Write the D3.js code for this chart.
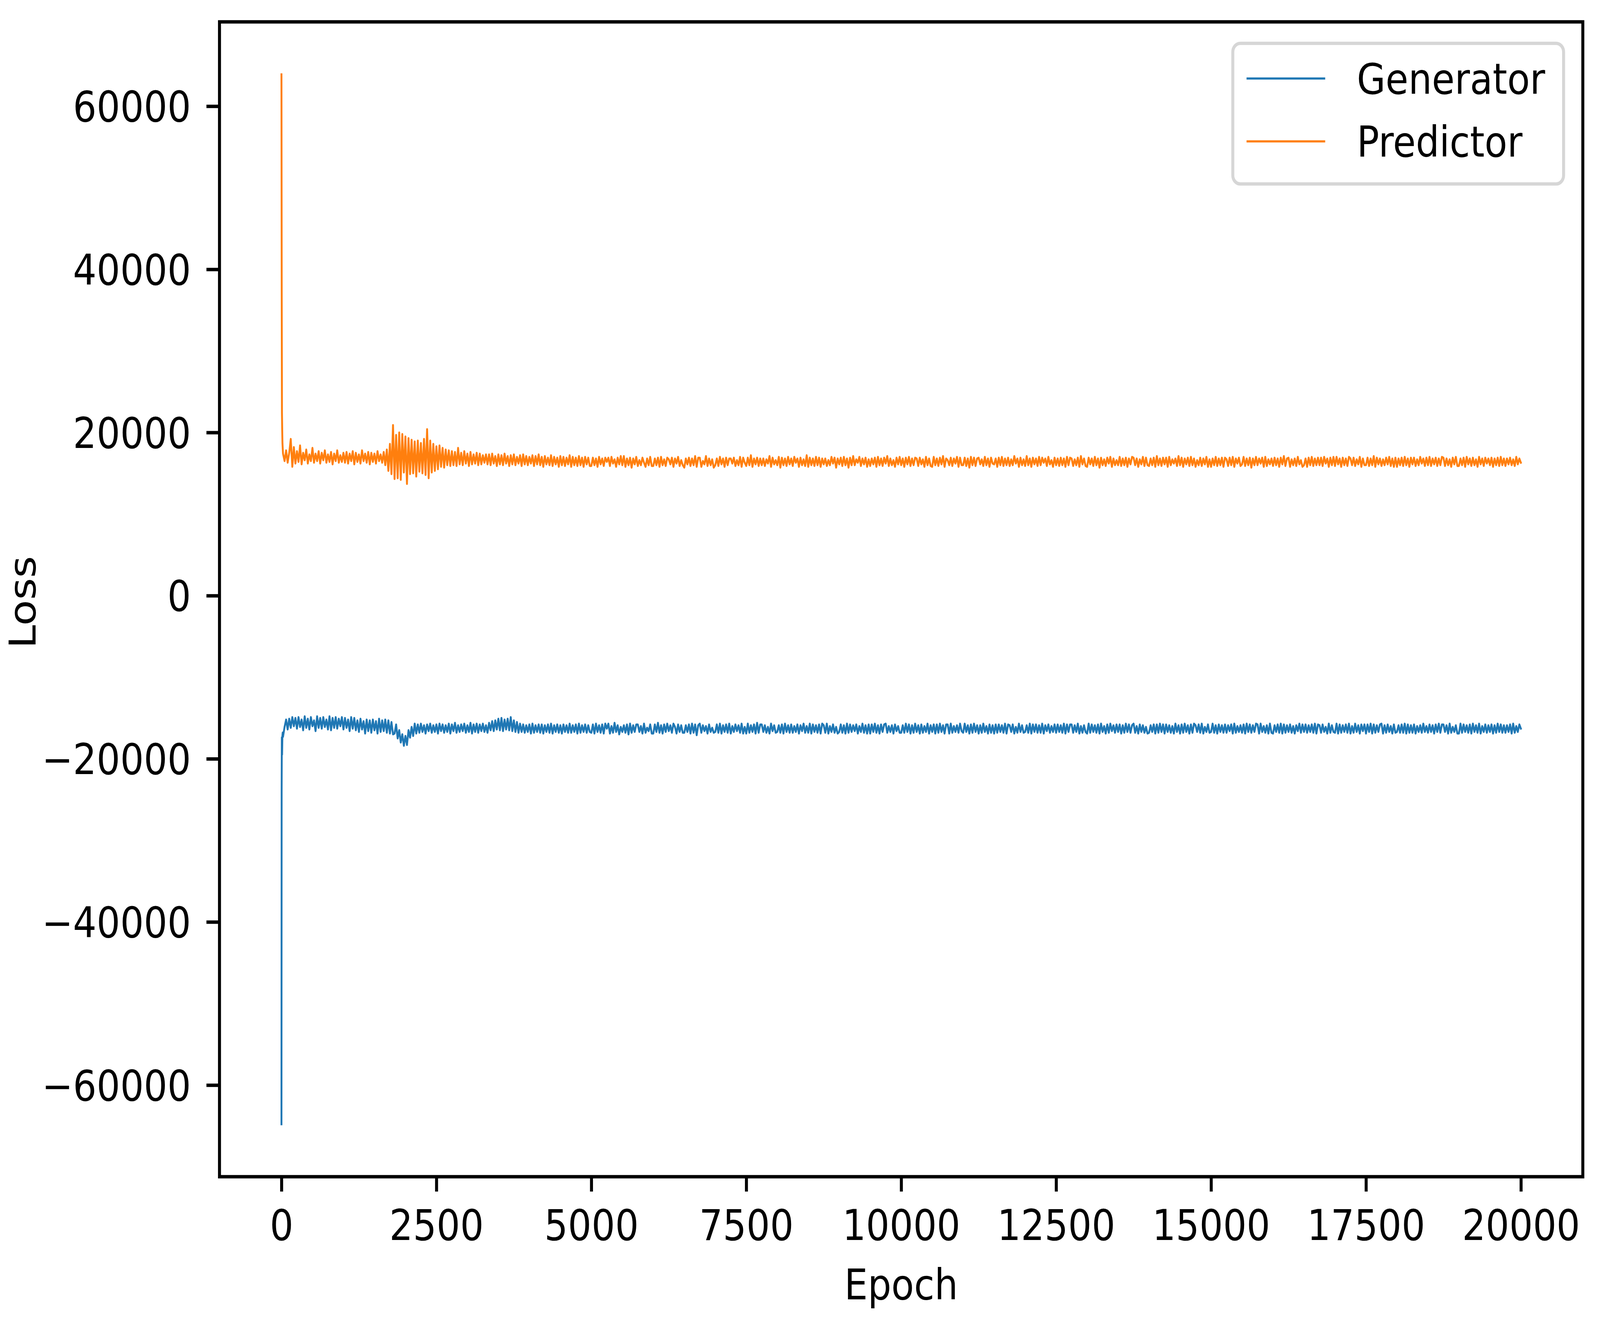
<!DOCTYPE html>
<html>
<head>
<meta charset="utf-8">
<style>
html, body { margin: 0; padding: 0; background: #fff; overflow: hidden; }
svg { display: block; width: 100vw; height: 100vh; }
</style>
</head>
<body>
<svg viewBox="0 0 4658 3385" preserveAspectRatio="none"></svg>
<script src="https://d3js.org/d3.v7.min.js"></script>
<script>
// values (epochs 25..19975 every 25)
var headEpochsPred = [0, 4, 8, 12, 16];
var headPred = [63900, 37600, 22400, 20300, 18700];
var headEpochsGen = [0, 3, 6, 10, 15, 20];
var headGen = [-64800, -24000, -17400, -19500, -17200, -16800];

var predFine = [
  17400, 16500, 17800, 16300, 17500, 19200, 15800, 18200,
  16200, 17700, 16400, 18400, 16100, 17500, 16600, 17900, 16200, 17300, 16500, 18100,
  16300, 17400, 16500, 17700, 16200, 17500, 16600, 17800, 16300, 17300,
  16400, 17600, 16100, 17400, 16500, 17800, 16300, 17200, 16400, 17500,
  16300, 17600, 16200, 17400, 16500, 17700, 16100, 17500, 16400, 17300,
  16200, 17800, 16500, 17400, 16300, 17600, 16100, 17500, 16400, 17400,
  16200, 17700, 16500, 17300, 16300, 17600,
  16000, 17900, 15300, 18600, 14900, 20900, 14300, 19700, 14400, 20000,
  14200, 19800, 15100, 19500, 13700, 19300, 14900, 19100, 15000, 18900,
  14600, 19000, 15200, 18700, 15000, 19200, 14800, 20400, 14400, 19000,
  15100, 18600, 15300, 18300, 15500, 18400, 15800, 18100, 15700, 17900,
  16000, 17800, 15900, 17700,
  16000, 17600, 15900, 18100, 16100, 17500, 16000, 17700, 16200, 17400,
  15900, 17600, 16100, 17300, 16200, 17500, 16000, 17400, 16100, 17200, 16300, 17300,
  16100, 17300, 16000, 17400, 16200, 17100, 15900, 17300, 16100, 17200,
  16000, 17400, 16200, 17100, 15900, 17200, 16100, 17300, 16000, 17000,
  16200, 17200, 15900, 17300, 16100, 17100, 16000, 17000, 16200, 17200,
  15900, 17100, 16100, 17300, 16000, 17000, 15800, 17100, 16100, 16900,
  16000, 17200, 15900, 17000, 16100, 16900, 15800, 17100, 16000, 17000,
  15900, 16900, 16100, 17200, 15800, 17000, 16000, 16900, 15900, 17100,
  16000, 16900, 15800, 17000, 16100, 16900, 15900
];

var predLate = [
  15900, 16900, 16000, 16800, 15800, 17000, 16100, 16800, 15900, 16900,
  16400, 16900, 15900, 17000, 16200, 16700, 15800, 16900, 16100, 17100,
  16000, 17100, 15800, 16800, 16000, 16900, 15700, 16800, 16100, 17000,
  15900, 16600, 16000, 16900, 16300, 15800, 16800, 16000, 17000, 15900,
  15900, 16800, 16000, 16900, 15800, 17000, 16000, 16700, 15900, 16900,
  16700, 16100, 16900, 15800, 16800, 16200, 17000, 15900, 16600, 16000,
  15700, 16800, 16100, 16900, 15900, 16800, 16000, 17100, 15800, 16900,
  16900, 15800, 16500, 16100, 17100, 15900, 16800, 16000, 16700, 15700,
  16000, 16800, 15900, 17000, 16100, 16800, 15800, 16900, 16000, 16800,
  16800, 16200, 16900, 15900, 16600, 16000, 17000, 15800, 16900, 16300,
  15900, 16900, 16000, 17200, 15800, 16800, 16100, 16900, 15900, 16800,
  16000, 16800, 15900, 16700, 16200, 17100, 15800, 16900, 16100, 16600,
  16000, 17000, 15700, 16900, 16000, 16800, 15900, 17000, 16100, 16800,
  15900, 17000, 16300, 16800, 15800, 16900, 16000, 16700, 15900, 17200,
  15800, 16900, 16000, 16800, 15900, 17000, 16000, 16900, 15800, 16800,
  16100, 16800, 15900, 16600, 16000, 17000, 16200, 16900, 15700, 16800,
  16100, 16900, 15900, 17000, 16000, 16800, 15700, 16900, 16000, 17100,
  16000, 16700, 16300, 17000, 15900, 16800, 16100, 16900, 15800, 16700,
  15900, 16800, 16100, 16900, 15800, 17000, 16000, 16800, 15900, 16900,
  16200, 17100, 15900, 16800, 16000, 16600, 15800, 16900, 16100, 17000,
  16000, 16800, 15800, 16900, 16100, 17000, 15900, 16800, 16000, 16900,
  16800, 15900, 16900, 16100, 16700, 15800, 17000, 16000, 16800, 15900,
  15800, 17000, 16000, 16800, 15900, 16900, 16100, 17100, 15800, 16800,
  16600, 16000, 16900, 15900, 16800, 16200, 17000, 15800, 16900, 16000,
  16000, 16900, 15900, 16800, 15700, 17000, 16000, 16900, 15900, 16800,
  16900, 16100, 16700, 15900, 17000, 16000, 16800, 15800, 16900, 16200,
  16100, 16800, 15800, 16900, 16000, 17000, 15900, 16800, 16000, 16900,
  15900, 16700, 16000, 17100, 16200, 16800, 15800, 16900, 16000, 16700,
  15900, 17100, 16000, 16800, 15800, 16900, 16100, 16800, 15900, 17000,
  16000, 16900, 16300, 16800, 15900, 17000, 16100, 16600, 15800, 16900,
  16000, 16800, 15900, 16900, 16000, 16800, 15800, 17000, 16000, 16900,
  16800, 15900, 16700, 16000, 16900, 15800, 17100, 16100, 16800, 15900,
  15800, 16900, 16100, 16800, 15900, 17000, 16000, 16800, 15700, 16900,
  16000, 16700, 15900, 16900, 16200, 17000, 15800, 16800, 16000, 16600,
  16000, 17000, 15900, 16800, 16000, 16900, 15800, 16800, 16100, 17000,
  16900, 16000, 16800, 15800, 16700, 16100, 17000, 15900, 16900, 16000,
  15900, 16800, 16000, 16900, 15800, 17100, 16000, 16800, 15900, 16900,
  16100, 16900, 15800, 17000, 16000, 16700, 16200, 16800, 15900, 17100,
  16000, 16900, 15800, 16800, 16100, 16900, 15900, 17000, 16000, 16800,
  15800, 16600, 16000, 16900, 15900, 16800, 16100, 17000, 15800, 16700,
  15800, 16800, 16000, 17000, 15900, 16800, 16000, 16900, 15800, 16900,
  16700, 15900, 16900, 16000, 17000, 15800, 16800, 16200, 16900, 15900,
  16100, 17000, 15900, 16800, 16000, 16900, 15700, 16800, 16000, 17000,
  16000, 16800, 16200, 16900, 15800, 17000, 15900, 16700, 16100, 16800,
  15900, 16900, 16000, 16800, 15800, 16900, 16100, 17100, 15900, 16800,
  16900, 15800, 16700, 16000, 16800, 15900, 17000, 16100, 16600, 15800,
  16000, 16800, 15800, 16900, 16000, 17000, 15900, 16800, 16000, 16900,
  16000, 16900, 15900, 17000, 16200, 16800, 15800, 16900, 16000, 17000,
  15900, 17000, 16100, 16800, 15800, 16900, 16000, 16800, 15900, 17000,
  16800, 16000, 16900, 15900, 16700, 16100, 17000, 15800, 16800, 16000,
  16000, 16900, 15900, 16800, 16000, 17100, 15800, 16900, 16100, 16800,
  15900, 16700, 16000, 16900, 16100, 17000, 15900, 16800, 15800, 16900,
  15800, 16800, 16000, 16900, 15900, 17000, 16000, 16800, 15800, 16900,
  16100, 16900, 15900, 16700, 16000, 17000, 16200, 16800, 15900, 16900,
  16000, 17000, 15900, 16800, 16100, 16900, 15900, 16800, 16000, 17000,
  16900, 15900, 16800, 16000, 16700, 15800, 16900, 16100, 17000, 15900,
  15900, 16800, 16000, 16900, 15800, 17000, 16100, 16800, 15900, 16900,
  16000, 16700, 15800, 17000, 16100, 16800, 15900, 16900, 16200, 16800,
  16000, 16900, 15800, 16800, 16000, 16900, 15900, 17000, 16000, 16800,
  15900, 16800, 16100, 16900, 16000, 16700, 15900, 17000, 16100, 16800,
  16300
];

var genFine = [
  -17300, -16100, -15200, -16400, -15100, -16200, -14900, -16000,
  -15000, -16300, -14900, -16100, -15200, -16500, -14800, -16200, -15100, -16400,
  -14900, -16000, -15300, -16600, -14800, -16200, -15000, -16300, -14900, -16100,
  -15200, -16400, -14800, -16500, -15000, -16200, -14900, -16300, -15100, -16000,
  -14900, -16400, -15000, -16200, -15200, -16600, -14900, -16300, -15000, -16500,
  -15300, -16700, -15100, -16400, -15400, -16900, -15200, -16600, -15300, -16800,
  -15200, -16500, -15400, -16900, -15100, -16700, -15300, -16600, -15200, -16800,
  -15300, -16900, -15500, -17000,
  -16900, -15800, -17500, -16500, -18000, -17000, -18400, -17200, -18300, -16500,
  -17400, -16100, -17200, -15700,
  -16900, -15800, -16800, -15700, -16700, -15900, -16900, -15800, -16600, -15700,
  -16800, -15900, -16700, -15800, -16900, -15700, -16600, -15800, -16800, -15900,
  -16700, -15700, -16900, -15800, -16600, -15600, -16800, -15900, -16700, -15800,
  -16600, -15700, -16800, -15900, -16700, -15600, -16900, -15800, -16700, -15700,
  -16800, -15800, -16600, -15700, -16700, -15900, -16800, -15600, -16500, -15400,
  -16600, -15300, -16400, -15100, -16500, -15000, -16600, -15200, -16400, -15100,
  -16500, -14900, -16600, -15300, -16700, -15500, -16800, -15700, -16700, -15800,
  -16800, -15900, -16700, -15800, -16900, -15700, -16800, -15900, -16700, -15800,
  -16800, -15800, -16900, -15900, -16700, -15800, -16800, -15700, -16900, -15900,
  -16700, -15800, -16800, -15900, -16900, -15800, -16700, -15900, -16800, -15700,
  -16800, -15900, -16700, -15800, -16900, -15700, -16800, -15900, -16700, -15800,
  -16800, -15900, -16700
];

var genLate = [
  -16800, -15800, -16900, -15700, -16700, -15900, -16800, -15800, -16900, -15700,
  -16300, -15700, -16900, -16000, -16800, -15600, -16700, -15900, -17000, -16100,
  -16700, -15900, -16800, -15800, -17000, -15700, -16800, -15900, -16700, -15800,
  -15800, -16700, -16000, -16900, -15700, -16800, -16200, -16600, -15800, -16900,
  -16900, -15800, -16700, -15600, -16800, -15900, -16900, -15800, -16700, -15700,
  -16600, -15900, -16800, -15700, -16100, -16900, -15800, -16700, -15900, -16800,
  -16800, -15900, -16700, -15800, -16900, -15700, -16800, -15800, -17100, -15900,
  -15700, -16800, -15900, -16600, -16000, -16900, -15800, -16700, -16200, -16800,
  -16700, -15800, -16800, -15700, -16900, -15900, -16700, -15800, -16800, -15700,
  -16900, -16000, -16700, -15800, -16600, -15900, -16800, -15700, -16900, -16100,
  -16900, -15700, -16800, -15900, -16700, -15800, -16900, -15600, -16800, -15800,
  -15800, -16700, -15900, -16800, -16100, -16900, -15700, -16600, -15900, -16800,
  -16700, -15900, -16800, -15800, -16900, -15700, -16700, -15900, -16800, -15800,
  -16800, -16000, -16700, -15800, -16900, -15900, -16600, -15700, -16800, -16000,
  -16800, -15700, -16900, -15800, -16700, -15900, -16800, -15800, -16900, -15700,
  -15900, -16800, -15700, -16900, -16000, -16700, -15800, -16800, -16100, -16900,
  -16700, -15800, -16800, -15900, -16900, -15700, -16800, -15800, -16700, -15900,
  -16600, -15800, -16900, -16000, -16700, -15700, -16800, -15900, -16900, -15800,
  -16900, -15800, -16700, -15700, -16800, -15900, -16900, -15800, -16700, -15800,
  -15700, -16800, -16000, -16700, -15900, -16900, -15800, -16600, -16000, -16800,
  -16800, -15900, -16800, -15700, -16700, -15800, -16900, -15900, -16800, -15700,
  -16700, -15900, -16900, -15800, -16800, -16000, -16700, -15700, -16900, -15900,
  -16700, -15800, -16900, -15800, -16800, -15700, -16700, -15900, -16900, -15800,
  -15800, -16900, -15700, -16800, -16000, -16700, -15900, -16800, -15700, -16600,
  -16800, -15700, -16700, -15900, -16900, -15800, -16800, -15700, -16700, -15900,
  -16900, -15900, -16800, -15700, -16700, -16000, -16900, -15800, -16800, -15900,
  -16900, -15800, -16800, -15800, -16700, -15900, -16800, -15700, -16900, -15800,
  -15900, -16700, -15800, -16900, -16100, -16800, -15700, -16700, -15900, -16800,
  -16700, -15900, -16800, -15700, -16900, -15800, -16700, -15800, -16800, -15900,
  -16800, -15700, -16900, -15900, -16600, -15800, -16800, -16000, -16700, -15800,
  -16800, -15800, -16700, -15900, -16800, -15700, -16900, -15800, -16700, -15800,
  -15800, -16800, -15900, -16700, -15700, -16900, -16000, -16800, -15900, -16700,
  -16900, -15700, -16800, -15800, -16700, -15900, -16800, -15800, -16900, -15700,
  -16700, -16000, -16900, -15800, -16800, -15700, -16600, -15900, -16800, -15800,
  -16700, -15800, -16900, -15900, -16800, -15700, -16700, -15800, -16800, -15900,
  -15700, -16800, -16000, -16900, -15800, -16700, -15900, -16800, -16100, -16900,
  -16800, -15900, -16700, -15800, -16900, -15800, -16800, -15700, -16700, -15800,
  -16900, -15800, -16700, -15900, -16800, -16000, -16900, -15700, -16700, -15900,
  -16900, -15800, -16800, -15700, -16700, -15900, -16900, -15800, -16800, -15700,
  -15900, -16700, -15800, -16800, -15700, -16900, -16100, -16700, -15800, -16800,
  -16700, -15700, -16800, -15900, -16900, -15800, -16700, -15900, -16800, -15800,
  -16800, -15900, -16600, -15800, -16900, -15700, -16800, -16000, -16700, -15900,
  -16800, -15800, -16900, -15700, -16700, -15800, -16800, -15900, -16700, -15700,
  -15800, -16900, -15700, -16700, -16000, -16800, -15900, -16900, -15700, -16800,
  -16900, -15900, -16700, -15800, -16800, -15700, -16900, -15800, -16800, -15900,
  -16700, -15800, -16800, -16000, -16900, -15900, -16600, -15700, -16800, -15800,
  -16700, -15800, -16800, -15900, -16700, -15800, -16800, -15700, -16900, -15800,
  -15900, -16800, -15800, -16700, -16100, -16900, -15700, -16800, -15900, -16700,
  -16800, -15700, -16900, -15800, -16800, -15900, -16700, -15800, -16800, -15700,
  -16900, -16000, -16800, -15700, -16700, -15900, -16900, -15800, -16600, -15800,
  -16900, -15800, -16700, -15700, -16900, -15800, -16800, -15900, -16700, -15800,
  -15700, -16900, -15900, -16800, -15800, -16700, -16000, -16900, -15800, -16800,
  -16700, -15900, -16800, -15800, -16800, -15700, -16900, -15800, -16800, -15900,
  -16800, -15800, -16900, -16000, -16700, -15900, -16800, -15700, -16700, -16000,
  -16800, -15800, -16700, -15900, -16900, -15800, -16700, -15700, -16800, -15800,
  -15800, -16700, -15900, -16900, -15700, -16800, -16100, -16700, -15900, -16900,
  -16900, -15700, -16800, -15800, -16700, -15900, -16800, -15800, -16900, -15700,
  -16700, -15900, -16800, -15700, -16900, -16000, -16700, -15800, -16800, -15900,
  -16700, -15800, -16900, -15900, -16800, -15700, -16700, -15800, -16800, -15900,
  -16800, -15900, -16700, -15800, -16900, -15700, -16800, -16000, -16700, -15800,
  -16300
];

var seriesNames = ["Generator", "Predictor"];
var seriesColors = ["#1f77b4", "#ff7f0e"];
var xTicks = [0, 2500, 5000, 7500, 10000, 12500, 15000, 17500, 20000];
var yTicks = [-60000, -40000, -20000, 0, 20000, 40000, 60000];

var stepEpochs = d3.range(25, 20000, 25).concat([19999]);

function pairs(ep, vals) {
	return ep.map(function(e, i) { return [e, vals[i]]; });
}

var genData = pairs(headEpochsGen.concat(stepEpochs), headGen.concat(genFine, genLate));
var predData = pairs(headEpochsPred.concat(stepEpochs), headPred.concat(predFine, predLate));

var svg = d3.select("svg");
// plot area in pixels ("top" is taken by window.top, so use other names)
var axLeft = 639, axRight = 4608, axTop = 56, axBottom = 3013;
var fs = 108;
var font = "DejaVu Sans";

// matplotlib style 5% margins
var allX = genData.concat(predData).map(function(d) { return d[0]; });
var allY = genData.concat(predData).filter(function(d) { return d[1] != null; }).map(function(d) { return d[1]; });
var xe = d3.extent(allX), ye = d3.extent(allY);
var xm = (xe[1] - xe[0]) * 0.05, ym = (ye[1] - ye[0]) * 0.05;

var x = d3.scaleLinear().domain([xe[0] - xm, xe[1] + xm]).range([axLeft, axRight]);
var y = d3.scaleLinear().domain([ye[0] - ym, ye[1] + ym]).range([axBottom, axTop]);

var line = d3.line()
	.defined(function(d) { return d[1] != null; })
	.x(function(d) { return x(d[0]); })
	.y(function(d) { return y(d[1]); });

[genData, predData].forEach(function(data, i) {
	svg.append("path")
	  .datum(data)
	  .attr("d", line)
	  .attr("fill", "none")
	  .attr("stroke", seriesColors[i])
	  .attr("stroke-width", 5.4)
	  .attr("stroke-linejoin", "round")
	  .attr("stroke-linecap", "square");
});

var fmt = d3.format("d");

var xAxis = svg.append("g")
  .attr("transform", "translate(0," + axBottom + ")")
  .call(d3.axisBottom(x).tickValues(xTicks).tickFormat(fmt).tickSize(38).tickPadding(47));

var yAxis = svg.append("g")
  .attr("transform", "translate(" + axLeft + ",0)")
  .call(d3.axisLeft(y).tickValues(yTicks).tickFormat(fmt).tickSize(38).tickPadding(45));

[xAxis, yAxis].forEach(function(g) {
	g.select(".domain").remove();
	g.selectAll(".tick line").attr("stroke", "#000").attr("stroke-width", 8.7);
	g.selectAll(".tick text")
	  .attr("fill", "#000")
	  .style("font-family", font)
	  .style("font-size", fs + "px");
});
yAxis.selectAll(".tick text").attr("dy", "0.36em");

// frame
svg.append("rect")
  .attr("x", axLeft).attr("y", axTop)
  .attr("width", axRight - axLeft).attr("height", axBottom - axTop)
  .attr("fill", "none")
  .attr("stroke", "#000")
  .attr("stroke-width", 8.7)
  .attr("stroke-linejoin", "miter");

svg.append("text")
  .attr("x", (axLeft + axRight) / 2)
  .attr("y", 3327)
  .attr("text-anchor", "middle")
  .style("font-family", font)
  .style("font-size", fs + "px")
  .text("Epoch");

// nudged right so the text box is not clipped by the page edge
svg.append("text")
  .attr("transform", "translate(104,1542) rotate(-90)")
  .attr("text-anchor", "middle")
  .style("font-family", font)
  .style("font-size", fs + "px")
  .text("Loss");

// legend
var legend = svg.append("g");
legend.append("rect")
  .attr("x", 3589).attr("y", 111)
  .attr("width", 963).attr("height", 360)
  .attr("rx", 22).attr("ry", 22)
  .attr("fill", "#fff")
  .attr("fill-opacity", 0.8)
  .attr("stroke", "#d6d6d6")
  .attr("stroke-width", 8.7);

seriesNames.forEach(function(name, i) {
	var ly = 201 + i * 161;
	legend.append("line")
	  .attr("x1", 3629).attr("x2", 3858)
	  .attr("y1", ly).attr("y2", ly)
	  .attr("stroke", seriesColors[i])
	  .attr("stroke-width", 5.4);
	legend.append("text")
	  .attr("x", 3950)
	  .attr("y", ly + 39)
	  .style("font-family", font)
	  .style("font-size", fs + "px")
	  .text(name);
});
</script>
</body>
</html>
